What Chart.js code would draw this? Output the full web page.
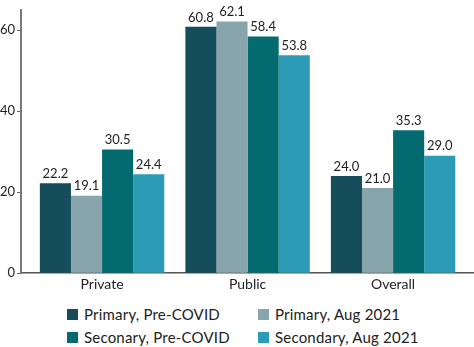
<!DOCTYPE html>
<html>
<head>
<meta charset="utf-8">
<script src="https://cdn.jsdelivr.net/npm/chart.js@4/dist/chart.umd.min.js"></script>
<style>
  html, body { margin: 0; padding: 0; background: #fff; }
  #wrap { position: relative; width: 474px; height: 347px; font-family: Lato, "Noto Sans", sans-serif; }
  #box { position: absolute; left: 0; top: 0; width: 474px; height: 296px; }
  #legend {
    position: absolute; left: 67px; top: 305px;
    display: grid; grid-template-columns: 191px 200px; row-gap: 5px;
    font-size: 15px; color: #222; letter-spacing: 0.2px;
  }
  #legend div { display: flex; align-items: center; height: 18px; }
  #legend span.sw { width: 11px; height: 11px; margin-right: 6px; display: inline-block; }
</style>
</head>
<body>
<div id="wrap">
  <div id="box"><canvas id="chart"></canvas></div>
  <div id="legend"></div>
</div>
<script>
const categories = ['Private', 'Public', 'Overall'];
const seriesNames = ['Primary, Pre-COVID', 'Primary, Aug 2021', 'Seconary, Pre-COVID', 'Secondary, Aug 2021'];
const primaryPre = [22.2, 60.8, 24.0];
const primaryAug = [19.1, 62.1, 21.0];
const secondaryPre = [30.5, 58.4, 35.3];
const secondaryAug = [24.4, 53.8, 29.0];
const yTicks = [0, 20, 40, 60];
const colors = ['#154d5b', '#88a5ab', '#036b70', '#2c9bb6'];

const values = [primaryPre, primaryAug, secondaryPre, secondaryAug];

// value text above every bar
const barValues = {
  id: 'barValues',
  afterDatasetsDraw(chart) {
    const ctx = chart.ctx;
    ctx.save();
    ctx.font = '13px Lato, "Noto Sans", sans-serif';
    ctx.fillStyle = '#222';
    ctx.textAlign = 'center';
    ctx.textBaseline = 'bottom';
    chart.data.datasets.forEach((ds, i) => {
      chart.getDatasetMeta(i).data.forEach((bar, j) => {
        ctx.fillText(ds.data[j].toFixed(1), bar.x, bar.y - 3);
      });
    });
    ctx.restore();
  }
};

new Chart(document.getElementById('chart'), {
  type: 'bar',
  data: {
    labels: categories,
    datasets: seriesNames.map((name, i) => ({
      label: name,
      data: values[i],
      backgroundColor: colors[i],
      barPercentage: 1,
      categoryPercentage: 0.855
    }))
  },
  options: {
    responsive: true,
    maintainAspectRatio: false,
    animation: false,
    layout: { padding: { top: 5, left: 0, right: 0, bottom: 0 } },
    plugins: { legend: { display: false }, tooltip: { enabled: false } },
    scales: {
      x: {
        grid: { display: false, drawTicks: false },
        border: { color: '#555', width: 1.5 },
        ticks: { color: '#222', font: { size: 14, family: 'Lato' }, padding: 3 },
        // groups sit a little inside the plot edges
        afterBuildTicks: s => { s._startValue = -0.557; s._valueRange = 3.113; }
      },
      y: {
        min: 0,
        max: 65,
        afterBuildTicks: s => { s.ticks = yTicks.map(v => ({ value: v })); },
        afterFit: s => { s.width = 21; },
        grid: { drawOnChartArea: false, drawTicks: true, tickLength: 4, color: '#666' },
        border: { color: '#7a7a7a', width: 2 },
        ticks: { color: '#222', font: { size: 13, family: 'Lato' }, padding: 2 }
      }
    }
  },
  plugins: [barValues]
});

const legend = document.getElementById('legend');
seriesNames.forEach((name, i) => {
  const item = document.createElement('div');
  item.innerHTML = '<span class="sw" style="background:' + colors[i] + '"></span>' + name;
  legend.appendChild(item);
});
</script>
</body>
</html>
